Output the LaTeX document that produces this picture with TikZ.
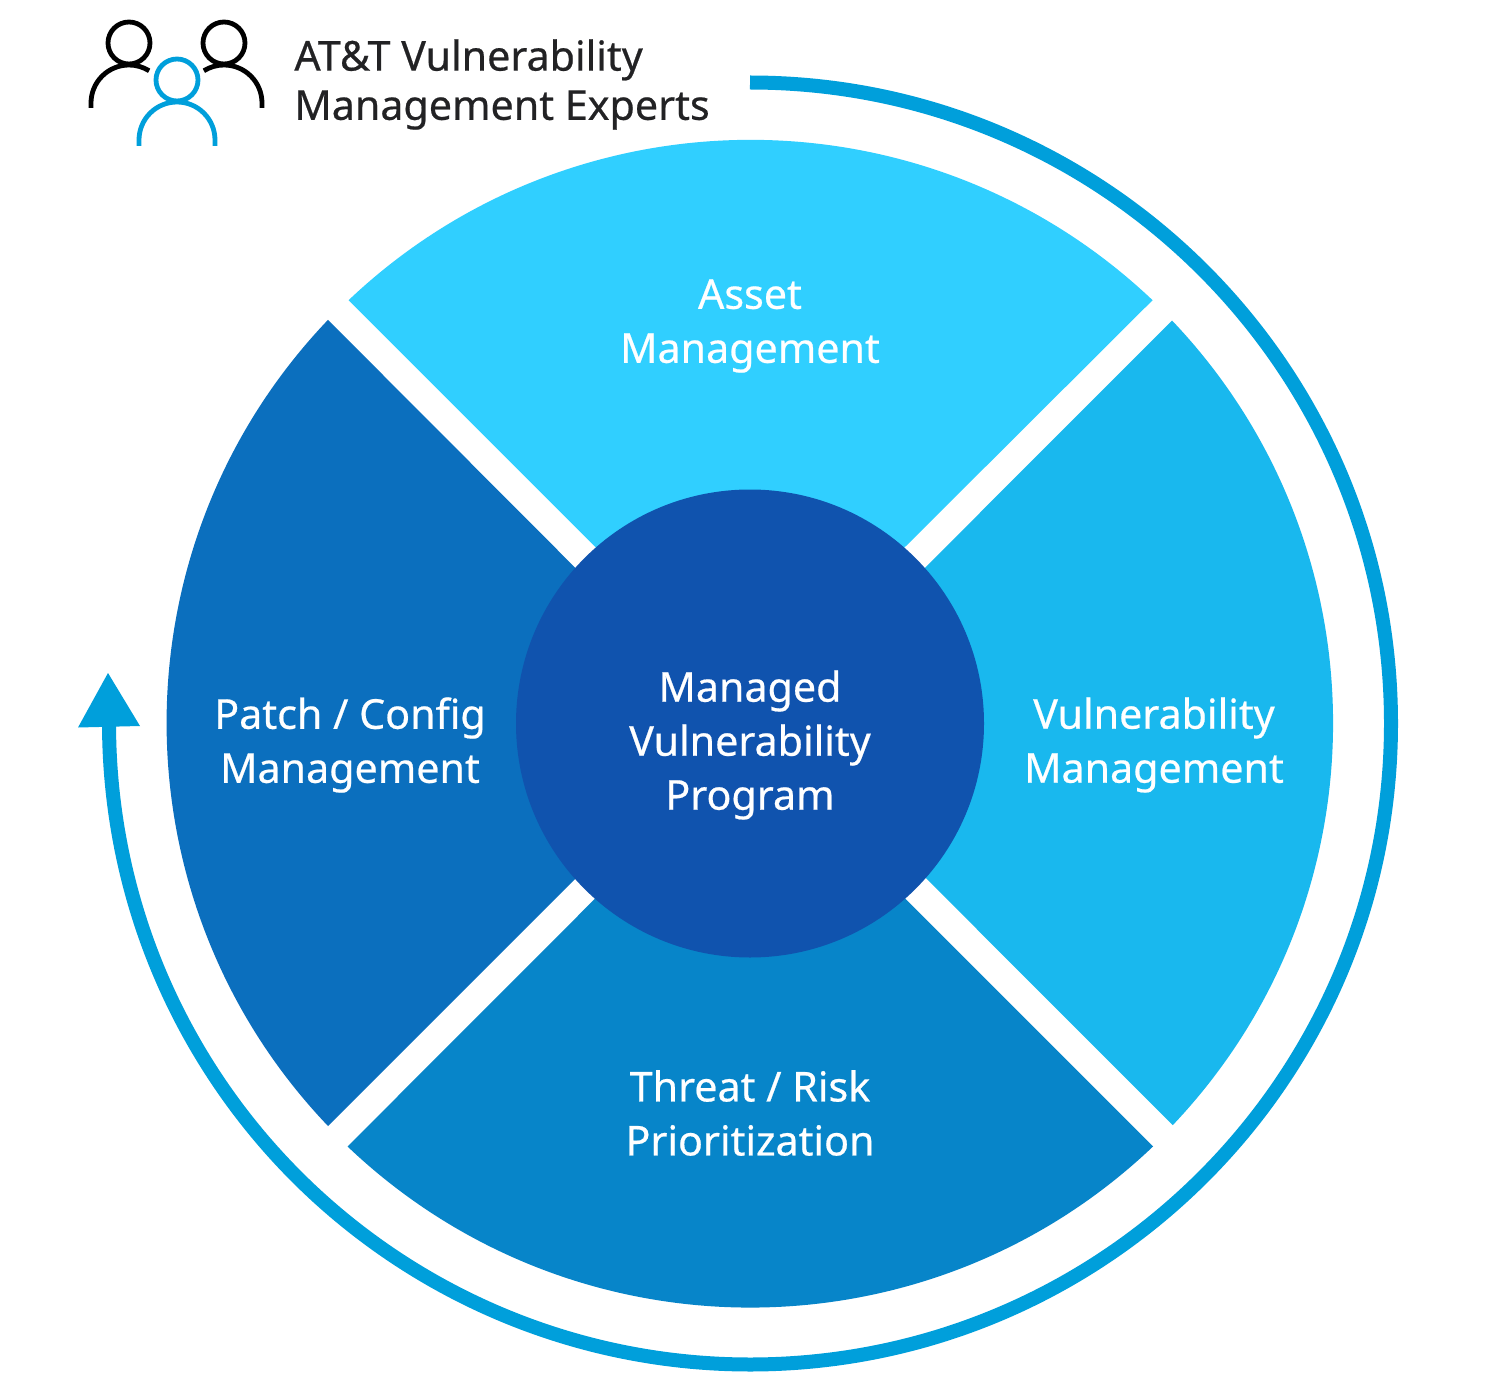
\documentclass[tikz,border=0pt]{standalone}
\usepackage{fontspec}
\setmainfont{Noto Sans}[BoldFont={Noto Sans},BoldFeatures={FakeBold=0.5}]
\definecolor{ctop}{HTML}{30CFFF}
\definecolor{cright}{HTML}{19B8EE}
\definecolor{cbottom}{HTML}{0785C9}
\definecolor{cleft}{HTML}{0B6FBE}
\definecolor{ccentre}{HTML}{1053AE}
\definecolor{cring}{HTML}{009FDB}
\definecolor{cink}{HTML}{222224}
\tikzset{
  lbl/.style={text=white,align=center,font=\bfseries\fontsize{20.6pt}{27pt}\selectfont,inner sep=0pt},
  hdr/.style={text=cink,align=left,anchor=west,font=\bfseries\fontsize{20.6pt}{24.6pt}\selectfont,inner sep=0pt},
  pers/.style={line width=2.4pt,draw=#1,fill=none}
}
\begin{document}
\begin{tikzpicture}[x=0.5pt,y=-0.5pt,line join=miter]
\useasboundingbox (0,0) rectangle (1500,1396);
\fill[white] (0,0) rectangle (1500,1396);
\coordinate (c) at (750,723.5);
% sectors
\fill[ctop] (750,701.5) -- (348.6,300.2) arc[start angle=133.5,end angle=46.5,radius=292pt] -- cycle;
\fill[cright] (769.5,723.5) -- (1172,320.5) arc[start angle=43.6,end angle=-43.5,radius=292pt] -- (771.5,723.5) -- cycle;
\fill[cbottom] (750,743.5) -- (1153,1146.5) arc[start angle=-46.4,end angle=-133.6,radius=292pt] -- cycle;
\fill[cleft] (730.5,723.5) -- (328,1126) arc[start angle=223.65,end angle=136.35,radius=292pt] -- cycle;
\node[circle,fill=ccentre,minimum size=234pt,inner sep=0pt] (hub) at (c) {};
% ring and arrow
\coordinate (ringstart) at (750,82.5);
\draw[cring,line width=7pt] (ringstart) arc[start angle=90,end angle=-180.3,radius=320.5pt];
\fill[cring] (108,673) -- (140,726) -- (78,727.5) -- cycle;
% people icon
\draw[pers=black] (129,43) circle[radius=10.5pt];
\draw[pers=black] (91,108) -- (91,103) arc[start angle=180,end angle=58,radius=19pt];
\draw[pers=black] (224,43) circle[radius=10.5pt];
\draw[pers=black] (262,108) -- (262,103) arc[start angle=0,end angle=122,radius=19pt];
\draw[pers=cring] (177,80) circle[radius=10.5pt];
\draw[pers=cring] (139,146) -- (139,140) arc[start angle=180,end angle=0,radius=19pt] -- (215,146);
% text
\node[hdr] (title) at (294,84.5) {AT\&T Vulnerability\\Management Experts};
\node[lbl] (asset) at (750,326) {Asset\\Management};
\node[lbl] (vuln) at (1154,745) {Vulnerability\\Management};
\node[lbl] (threat) at (750,1113) {Threat / Risk\\Prioritization};
\node[lbl] (patch) at (350,745) {Patch / Config\\Management};
\node[lbl] (prog) at (750,745) {Managed\\Vulnerability\\Program};
\end{tikzpicture}
\end{document}
